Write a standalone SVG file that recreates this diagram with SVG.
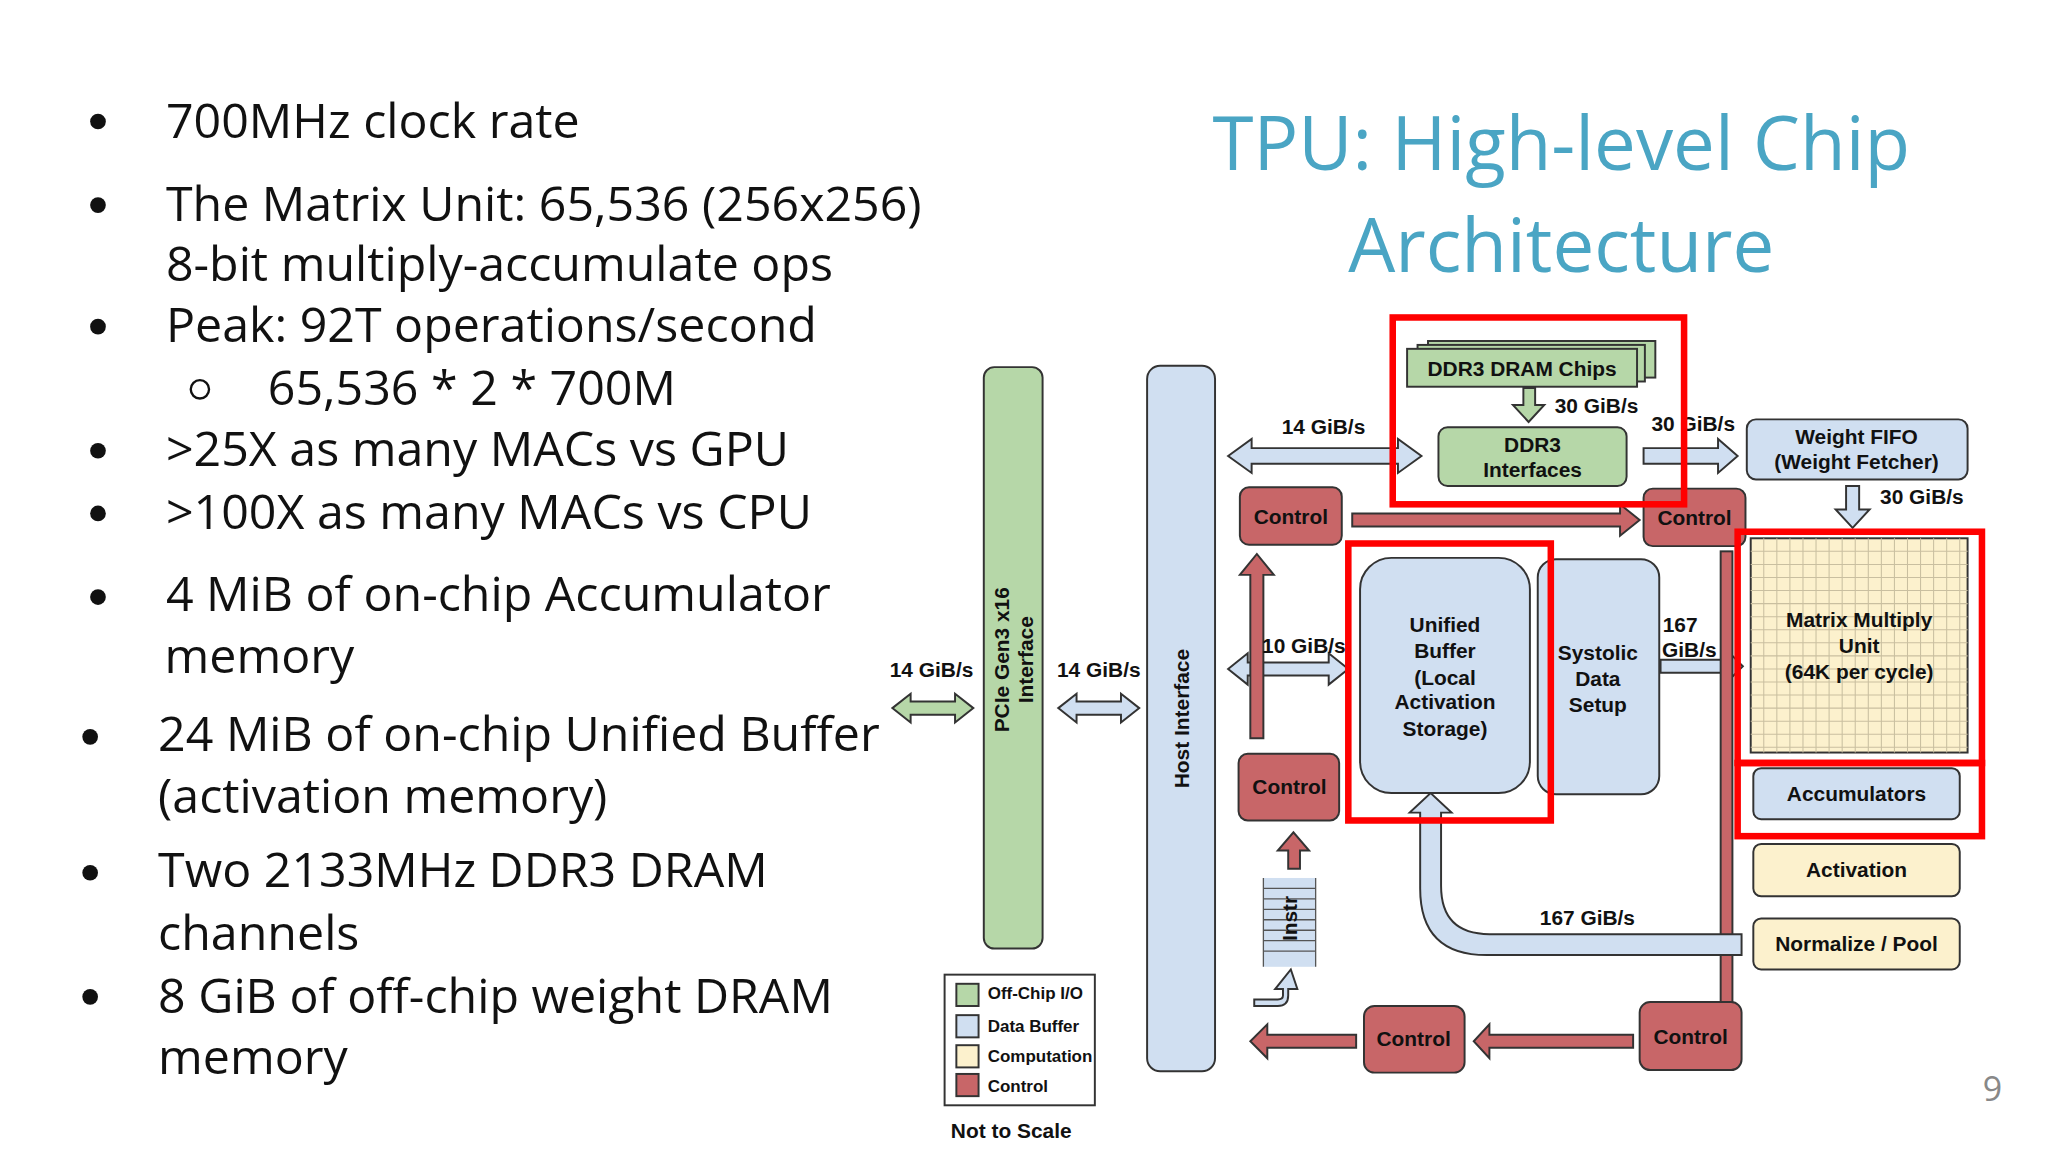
<svg xmlns="http://www.w3.org/2000/svg" width="2048" height="1152" viewBox="0 0 2048 1152">
<style>
.b{font-family:"Open Sans","Noto Sans",sans-serif;font-size:37px;fill:#111}
.d{font-family:"Liberation Sans",Arial,sans-serif;font-weight:bold;font-size:16px;fill:#111;text-anchor:middle}
.g{fill:#b6d7a8;stroke:#333;stroke-width:1.5}
.u{fill:#d0dff1;stroke:#333;stroke-width:1.5}
.y{fill:#fcf1cd;stroke:#333;stroke-width:1.5}
.c{fill:#c86668;stroke:#333;stroke-width:1.5}
.rb{fill:none;stroke:#f00;stroke-width:5}
</style>
<rect width="2048" height="1152" fill="#fff"/>
<g transform="scale(1.3065)">
<g id="bullets">
<g fill="#111"><circle cx="75" cy="93" r="6"/><circle cx="75" cy="157" r="6"/><circle cx="75" cy="250" r="6"/><circle cx="75" cy="345" r="6"/><circle cx="75" cy="393" r="6"/><circle cx="75" cy="457" r="6"/><circle cx="69" cy="564" r="6"/><circle cx="69" cy="668" r="6"/><circle cx="69" cy="763" r="6"/></g>
<circle cx="153" cy="298" r="7" fill="none" stroke="#111" stroke-width="1.8"/>
<text class="b" x="127" y="106">700MHz clock rate</text>
<text class="b" x="127" y="169">The Matrix Unit: 65,536 (256x256)</text>
<text class="b" x="127" y="215">8-bit multiply-accumulate ops</text>
<text class="b" x="127" y="262">Peak: 92T operations/second</text>
<text class="b" x="205" y="310">65,536 * 2 * 700M</text>
<text class="b" x="127" y="357">&gt;25X as many MACs vs GPU</text>
<text class="b" x="127" y="405">&gt;100X as many MACs vs CPU</text>
<text class="b" x="127" y="468">4 MiB of on-chip Accumulator</text>
<text class="b" x="126" y="515">memory</text>
<text class="b" x="121" y="575">24 MiB of on-chip Unified Buffer</text>
<text class="b" x="121" y="622">(activation memory)</text>
<text class="b" x="121" y="679">Two 2133MHz DDR3 DRAM</text>
<text class="b" x="121" y="727">channels</text>
<text class="b" x="121" y="775">8 GiB of off-chip weight DRAM</text>
<text class="b" x="121" y="822">memory</text>
</g>
<g id="title" font-family="Open Sans, Noto Sans, sans-serif" font-size="57" fill="#4aa5c4" text-anchor="middle">
<text x="1195" y="130">TPU: High-level Chip</text>
<text x="1195" y="208">Architecture</text>
</g>
<g id="connectors">
<polygon class="g" points="683,542 697,531 697,537 731,537 731,531 745,542 731,553 731,547 697,547 697,553"/>
<polygon class="u" points="810,542 824,531 824,537 858,537 858,531 872,542 858,553 858,547 824,547 824,553"/>
<polygon class="u" points="940,349 958,336 958,343 1070,343 1070,336 1088,349 1070,362 1070,355 958,355 958,362"/>
<polygon class="u" points="940,512 955,500 955,507 1017,507 1017,500 1032,512 1017,524 1017,517 955,517 955,524"/>
<polygon class="g" points="1166,297 1175,297 1175,310 1182,310 1170,323 1158,310 1166,310"/>
<polygon class="u" points="1258,343 1315,343 1315,336 1330,349 1315,362 1315,355 1258,355"/>
<polygon class="u" points="1413,372 1423,372 1423,390 1431,390 1418,404 1405,390 1413,390"/>
<polygon class="u" points="1271,505 1322,505 1322,498 1334,510 1322,522 1322,515 1271,515"/>
<polygon class="c" points="1035,393 1240,393 1240,386 1255,398 1240,410 1240,403 1035,403"/>
<polygon class="c" points="957,565 967,565 967,440 975,440 962,424 949,440 957,440"/>
<polygon class="c" points="986,665 995,665 995,651 1002,651 990,637 978,651 986,651"/>
<polygon class="c" points="1250,792 1140,792 1140,784 1128,797 1140,810 1140,802 1250,802"/>
<polygon class="c" points="1038,792 970,792 970,784 957,797 970,810 970,802 1038,802"/>
<rect class="c" x="1317" y="422" width="9" height="346"/>
<path class="u" d="M1333,715 H1140 Q1103,715 1103,678 V622 H1111 L1095,607 L1079,622 H1087 V680 Q1087,731 1138,731 H1333 Z"/>
<path class="u" d="M960,770 H978 Q986,770 986,762 V757 H993 L988,742 L976,757 H982 V762 Q982,765 978,765 H960 Z" fill="#a9c4e8"/>
</g>
<g id="pcie"><rect class="g" x="753" y="281" width="45" height="445" rx="8"/>
<text class="d" transform="translate(772,505) rotate(-90)">PCIe Gen3 x16</text>
<text class="d" transform="translate(791,505) rotate(-90)">Interface</text></g>
<g id="host"><rect class="u" x="878" y="280" width="52" height="540" rx="10"/>
<text class="d" transform="translate(910,550) rotate(-90)">Host Interface</text></g>
<g id="ddr3chips"><rect class="g" x="1093" y="261" width="174" height="28"/><rect class="g" x="1085" y="264" width="174" height="28"/><rect class="g" x="1077" y="267" width="176" height="29"/>
<text class="d" x="1165" y="288">DDR3 DRAM Chips</text></g>
<g id="ddr3if"><rect class="g" x="1101" y="327" width="144" height="45" rx="7"/>
<text class="d" x="1173" y="346">DDR3</text><text class="d" x="1173" y="365">Interfaces</text></g>
<g id="wfifo"><rect class="u" x="1337" y="321" width="169" height="46" rx="7"/>
<text class="d" x="1421" y="340">Weight FIFO</text><text class="d" x="1421" y="359">(Weight Fetcher)</text></g>
<g id="ctl1"><rect class="c" x="949" y="373" width="78" height="44" rx="7"/><text class="d" x="988" y="401">Control</text></g>
<g id="ctl2"><rect class="c" x="1258" y="374" width="78" height="44" rx="7"/><text class="d" x="1297" y="402">Control</text></g>
<g id="ctl3"><rect class="c" x="948" y="577" width="77" height="51" rx="7"/><text class="d" x="987" y="608">Control</text></g>
<g id="ctl4"><rect class="c" x="1044" y="770" width="77" height="51" rx="8"/><text class="d" x="1082" y="801">Control</text></g>
<g id="ctl5"><rect class="c" x="1255" y="767" width="78" height="52" rx="8"/><text class="d" x="1294" y="799">Control</text></g>
<g id="ub"><rect class="u" x="1041" y="427" width="130" height="180" rx="24"/>
<text class="d" x="1106" y="484">Unified</text><text class="d" x="1106" y="504">Buffer</text><text class="d" x="1106" y="524">(Local</text><text class="d" x="1106" y="543">Activation</text><text class="d" x="1106" y="563">Storage)</text></g>
<g id="systolic"><rect class="u" x="1177" y="428" width="93" height="180" rx="14"/>
<text class="d" x="1223" y="505">Systolic</text><text class="d" x="1223" y="525">Data</text><text class="d" x="1223" y="545">Setup</text></g>
<g id="mmu"><rect class="y" x="1340" y="412" width="166" height="164"/>
<path d="M1350,412V576M1360,412V576M1370,412V576M1380,412V576M1390,412V576M1400,412V576M1410,412V576M1420,412V576M1430,412V576M1440,412V576M1450,412V576M1460,412V576M1470,412V576M1480,412V576M1490,412V576M1500,412V576M1340,422H1506M1340,432H1506M1340,442H1506M1340,452H1506M1340,462H1506M1340,472H1506M1340,482H1506M1340,492H1506M1340,502H1506M1340,512H1506M1340,522H1506M1340,532H1506M1340,542H1506M1340,552H1506M1340,562H1506M1340,572H1506" stroke="#c9bfa0" stroke-width="0.8" fill="none"/>
<text class="d" x="1423" y="480">Matrix Multiply</text><text class="d" x="1423" y="500">Unit</text><text class="d" x="1423" y="520">(64K per cycle)</text></g>
<g id="acc"><rect class="u" x="1342" y="588" width="158" height="39" rx="6"/><text class="d" x="1421" y="613">Accumulators</text></g>
<g id="act"><rect class="y" x="1342" y="646" width="158" height="40" rx="6"/><text class="d" x="1421" y="671">Activation</text></g>
<g id="norm"><rect class="y" x="1342" y="703" width="158" height="39" rx="6"/><text class="d" x="1421" y="728">Normalize / Pool</text></g>
<g id="instr"><rect x="967" y="672" width="40" height="68" fill="#d0dff1" stroke="none"/>
<path d="M967,672V740M1007,672V740M967,680H1007M967,688H1007M967,696H1007M967,704H1007M967,712H1007M967,720H1007M967,728H1007" stroke="#555" stroke-width="1" fill="none"/>
<text class="d" transform="translate(993,703) rotate(-90)">Instr</text></g>
<g id="labels">
<text class="d" x="713" y="518">14 GiB/s</text><text class="d" x="841" y="518">14 GiB/s</text>
<text class="d" x="1013" y="332">14 GiB/s</text><text class="d" x="1222" y="316">30 GiB/s</text>
<text class="d" x="1296" y="330">30 GiB/s</text><text class="d" x="1471" y="386">30 GiB/s</text>
<text class="d" x="998" y="500">10 GiB/s</text>
<text class="d" x="1286" y="484">167</text><text class="d" x="1293" y="503">GiB/s</text>
<text class="d" x="1215" y="708">167 GiB/s</text>
</g>
<g id="highlights">
<rect class="rb" x="1066" y="243" width="223" height="143"/>
<rect class="rb" x="1032" y="416" width="155" height="212"/>
<rect class="rb" x="1330" y="407" width="187" height="177"/>
<rect class="rb" x="1330" y="584" width="187" height="56"/>
</g>
<g id="legend"><rect x="723" y="746" width="115" height="100" fill="#fff" stroke="#333" stroke-width="1.5"/>
<rect class="g" x="732" y="753" width="17" height="17"/><rect class="u" x="732" y="777" width="17" height="17"/><rect class="y" x="732" y="800" width="17" height="17"/><rect class="c" x="732" y="822" width="17" height="17"/>
<g font-family="Liberation Sans, Arial, sans-serif" font-weight="bold" font-size="13" fill="#111">
<text x="756" y="765">Off-Chip I/O</text><text x="756" y="790">Data Buffer</text><text x="756" y="813">Computation</text><text x="756" y="836">Control</text></g></g>
<text class="d" x="774" y="871" font-size="13">Not to Scale</text>
<text x="1525" y="843" font-family="Open Sans, sans-serif" font-size="26" fill="#888" text-anchor="middle">9</text>
</g>
</svg>
